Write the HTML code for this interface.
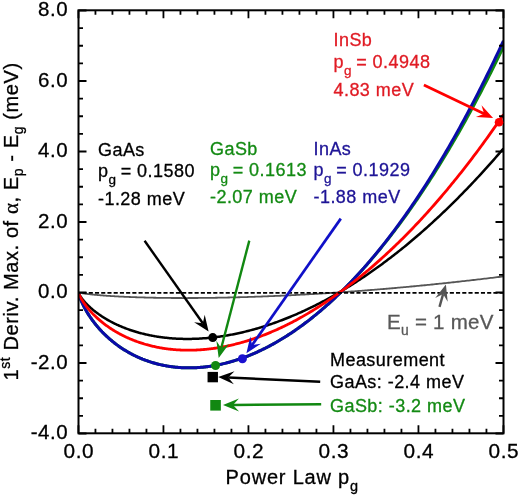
<!DOCTYPE html>
<html><head><meta charset="utf-8"><title>Power law plot</title>
<style>
html,body{margin:0;padding:0;background:#fff;}
body{width:520px;height:495px;overflow:hidden;position:relative;}
svg{position:absolute;left:0;top:0;}
text{font-family:"Liberation Sans",Arial,sans-serif;stroke:currentColor;stroke-width:0.3px;}
</style></head><body>
<svg width="520" height="495" viewBox="0 0 520 495">
<rect width="520" height="495" fill="#fff"/>
<defs><clipPath id="clip"><rect x="78.5" y="10.3" width="425" height="423"/></clipPath></defs>

<g clip-path="url(#clip)" fill="none" stroke-linejoin="round">
<polyline points="78.45,292.50 78.50,292.52 78.60,292.55 78.73,292.59 78.88,292.63 79.05,292.67 79.23,292.71 79.44,292.76 79.66,292.80 79.89,292.85 80.14,292.90 80.40,292.95 80.67,293.00 80.95,293.05 81.24,293.10 81.55,293.16 81.86,293.21 82.19,293.26 82.52,293.31 82.87,293.37 83.22,293.42 83.58,293.47 83.95,293.53 84.33,293.58 84.72,293.64 85.12,293.69 85.52,293.74 85.93,293.80 86.35,293.85 86.78,293.91 87.21,293.96 87.65,294.01 88.10,294.07 88.56,294.12 89.02,294.18 89.49,294.23 89.97,294.28 90.45,294.34 90.94,294.39 91.44,294.44 91.94,294.50 92.45,294.55 92.96,294.60 93.49,294.65 94.01,294.70 94.55,294.76 95.09,294.81 95.63,294.86 96.18,294.91 96.74,294.96 97.30,295.01 97.87,295.06 98.45,295.11 99.03,295.16 99.61,295.21 100.20,295.26 100.80,295.31 101.40,295.36 102.00,295.40 102.62,295.45 103.23,295.50 103.86,295.55 104.48,295.59 105.11,295.64 105.75,295.69 106.39,295.73 107.04,295.78 107.69,295.82 108.35,295.87 109.01,295.91 109.68,295.96 110.35,296.00 111.03,296.04 111.71,296.09 112.40,296.13 113.09,296.17 113.78,296.21 114.48,296.25 115.18,296.29 115.89,296.33 116.61,296.37 117.32,296.41 118.05,296.45 118.77,296.49 119.50,296.53 120.24,296.57 120.98,296.61 121.72,296.64 122.47,296.68 123.22,296.72 123.98,296.75 124.74,296.79 125.51,296.82 126.27,296.86 127.05,296.89 127.83,296.92 128.61,296.96 129.39,296.99 130.18,297.02 130.98,297.05 131.77,297.09 132.58,297.12 133.38,297.15 134.19,297.18 135.01,297.21 135.82,297.24 136.65,297.26 137.47,297.29 138.30,297.32 139.13,297.35 139.97,297.37 140.81,297.40 141.66,297.42 142.50,297.45 143.36,297.47 144.21,297.50 145.07,297.52 145.94,297.54 146.80,297.57 147.67,297.59 148.55,297.61 149.43,297.63 150.31,297.65 151.19,297.67 152.08,297.69 152.97,297.71 153.87,297.73 154.77,297.75 155.67,297.76 156.58,297.78 157.49,297.80 158.40,297.81 159.32,297.83 160.24,297.84 161.17,297.86 162.09,297.87 163.02,297.88 163.96,297.90 164.90,297.91 165.84,297.92 166.78,297.93 167.73,297.94 168.68,297.95 169.64,297.96 170.60,297.97 171.56,297.98 172.52,297.98 173.49,297.99 174.46,298.00 175.44,298.00 176.41,298.01 177.40,298.01 178.38,298.02 179.37,298.02 180.36,298.02 181.35,298.02 182.35,298.03 183.35,298.03 184.35,298.03 185.36,298.03 186.37,298.03 187.39,298.03 188.40,298.02 189.42,298.02 190.44,298.02 191.47,298.02 192.50,298.01 193.53,298.01 194.57,298.00 195.60,298.00 196.65,297.99 197.69,297.98 198.74,297.97 199.79,297.96 200.84,297.96 201.90,297.95 202.96,297.94 204.02,297.92 205.09,297.91 206.16,297.90 207.23,297.89 208.30,297.87 209.38,297.86 210.46,297.85 211.54,297.83 212.63,297.81 213.72,297.80 214.81,297.78 215.91,297.76 217.01,297.74 218.11,297.72 219.21,297.70 220.32,297.68 221.43,297.66 222.54,297.64 223.65,297.62 224.77,297.60 225.89,297.57 227.02,297.55 228.15,297.52 229.28,297.50 230.41,297.47 231.54,297.44 232.68,297.41 233.82,297.39 234.97,297.36 236.11,297.33 237.26,297.30 238.41,297.27 239.57,297.23 240.73,297.20 241.89,297.17 243.05,297.13 244.22,297.10 245.39,297.06 246.56,297.03 247.73,296.99 248.91,296.95 250.09,296.91 251.27,296.88 252.46,296.84 253.64,296.80 254.83,296.75 256.03,296.71 257.22,296.67 258.42,296.63 259.62,296.58 260.83,296.54 262.03,296.49 263.24,296.45 264.45,296.40 265.67,296.35 266.88,296.31 268.10,296.26 269.33,296.21 270.55,296.16 271.78,296.11 273.01,296.05 274.24,296.00 275.48,295.95 276.72,295.89 277.96,295.84 279.20,295.78 280.44,295.73 281.69,295.67 282.94,295.61 284.20,295.55 285.45,295.49 286.71,295.43 287.97,295.37 289.23,295.31 290.50,295.25 291.77,295.19 293.04,295.12 294.31,295.06 295.59,294.99 296.87,294.93 298.15,294.86 299.43,294.79 300.72,294.72 302.01,294.65 303.30,294.58 304.59,294.51 305.89,294.44 307.19,294.37 308.49,294.29 309.79,294.22 311.10,294.14 312.40,294.07 313.72,293.99 315.03,293.91 316.34,293.84 317.66,293.76 318.98,293.68 320.31,293.60 321.63,293.52 322.96,293.43 324.29,293.35 325.62,293.27 326.96,293.18 328.29,293.10 329.63,293.01 330.97,292.92 332.32,292.84 333.67,292.75 335.01,292.66 336.37,292.57 337.72,292.47 339.08,292.38 340.43,292.29 341.80,292.20 343.16,292.10 344.52,292.01 345.89,291.91 347.26,291.81 348.64,291.71 350.01,291.61 351.39,291.51 352.77,291.41 354.15,291.31 355.53,291.21 356.92,291.11 358.31,291.00 359.70,290.90 361.09,290.79 362.49,290.68 363.89,290.58 365.29,290.47 366.69,290.36 368.10,290.25 369.50,290.14 370.91,290.02 372.32,289.91 373.74,289.80 375.15,289.68 376.57,289.57 377.99,289.45 379.42,289.33 380.84,289.21 382.27,289.10 383.70,288.98 385.13,288.85 386.57,288.73 388.00,288.61 389.44,288.48 390.88,288.36 392.32,288.23 393.77,288.11 395.22,287.98 396.67,287.85 398.12,287.72 399.57,287.59 401.03,287.46 402.49,287.33 403.95,287.19 405.41,287.06 406.88,286.92 408.34,286.79 409.81,286.65 411.29,286.51 412.76,286.37 414.23,286.23 415.71,286.09 417.19,285.95 418.68,285.81 420.16,285.66 421.65,285.52 423.14,285.37 424.63,285.23 426.12,285.08 427.62,284.93 429.11,284.78 430.61,284.63 432.11,284.48 433.62,284.33 435.12,284.17 436.63,284.02 438.14,283.86 439.66,283.71 441.17,283.55 442.69,283.39 444.21,283.23 445.73,283.07 447.25,282.91 448.77,282.74 450.30,282.58 451.83,282.42 453.36,282.25 454.89,282.08 456.43,281.92 457.97,281.75 459.51,281.58 461.05,281.41 462.59,281.23 464.14,281.06 465.69,280.89 467.24,280.71 468.79,280.54 470.34,280.36 471.90,280.18 473.46,280.00 475.02,279.82 476.58,279.64 478.14,279.46 479.71,279.27 481.28,279.09 482.85,278.90 484.42,278.72 486.00,278.53 487.57,278.34 489.15,278.15 490.73,277.96 492.31,277.77 493.90,277.57 495.49,277.38 497.08,277.18 498.67,276.99 500.26,276.79 501.85,276.59 503.45,276.39" stroke="#555555" stroke-width="1.8"/>
<polyline points="78.45,292.50 78.50,292.67 78.60,292.92 78.73,293.22 78.88,293.54 79.05,293.88 79.23,294.24 79.44,294.62 79.66,295.00 79.89,295.39 80.14,295.79 80.40,296.20 80.67,296.62 80.95,297.04 81.24,297.46 81.55,297.89 81.86,298.32 82.19,298.75 82.52,299.19 82.87,299.63 83.22,300.07 83.58,300.51 83.95,300.96 84.33,301.40 84.72,301.85 85.12,302.29 85.52,302.74 85.93,303.18 86.35,303.63 86.78,304.08 87.21,304.52 87.65,304.97 88.10,305.41 88.56,305.85 89.02,306.30 89.49,306.74 89.97,307.18 90.45,307.62 90.94,308.06 91.44,308.49 91.94,308.93 92.45,309.36 92.96,309.80 93.49,310.23 94.01,310.66 94.55,311.08 95.09,311.51 95.63,311.93 96.18,312.36 96.74,312.77 97.30,313.19 97.87,313.61 98.45,314.02 99.03,314.43 99.61,314.84 100.20,315.25 100.80,315.65 101.40,316.05 102.00,316.45 102.62,316.85 103.23,317.24 103.86,317.63 104.48,318.02 105.11,318.41 105.75,318.79 106.39,319.17 107.04,319.55 107.69,319.92 108.35,320.29 109.01,320.66 109.68,321.03 110.35,321.39 111.03,321.75 111.71,322.11 112.40,322.46 113.09,322.81 113.78,323.16 114.48,323.51 115.18,323.85 115.89,324.19 116.61,324.52 117.32,324.85 118.05,325.18 118.77,325.51 119.50,325.83 120.24,326.15 120.98,326.46 121.72,326.77 122.47,327.08 123.22,327.39 123.98,327.69 124.74,327.99 125.51,328.28 126.27,328.57 127.05,328.86 127.83,329.14 128.61,329.42 129.39,329.70 130.18,329.97 130.98,330.24 131.77,330.51 132.58,330.77 133.38,331.03 134.19,331.28 135.01,331.53 135.82,331.78 136.65,332.02 137.47,332.26 138.30,332.49 139.13,332.73 139.97,332.95 140.81,333.18 141.66,333.40 142.50,333.61 143.36,333.82 144.21,334.03 145.07,334.23 145.94,334.43 146.80,334.63 147.67,334.82 148.55,335.01 149.43,335.19 150.31,335.37 151.19,335.54 152.08,335.72 152.97,335.88 153.87,336.04 154.77,336.20 155.67,336.36 156.58,336.51 157.49,336.65 158.40,336.79 159.32,336.93 160.24,337.06 161.17,337.19 162.09,337.31 163.02,337.43 163.96,337.55 164.90,337.66 165.84,337.76 166.78,337.86 167.73,337.96 168.68,338.05 169.64,338.14 170.60,338.22 171.56,338.30 172.52,338.38 173.49,338.45 174.46,338.51 175.44,338.57 176.41,338.63 177.40,338.68 178.38,338.72 179.37,338.77 180.36,338.80 181.35,338.83 182.35,338.86 183.35,338.88 184.35,338.90 185.36,338.91 186.37,338.92 187.39,338.93 188.40,338.92 189.42,338.92 190.44,338.90 191.47,338.89 192.50,338.87 193.53,338.84 194.57,338.81 195.60,338.77 196.65,338.73 197.69,338.68 198.74,338.63 199.79,338.58 200.84,338.51 201.90,338.45 202.96,338.37 204.02,338.30 205.09,338.21 206.16,338.13 207.23,338.03 208.30,337.93 209.38,337.83 210.46,337.72 211.54,337.61 212.63,337.49 213.72,337.36 214.81,337.23 215.91,337.10 217.01,336.96 218.11,336.81 219.21,336.66 220.32,336.50 221.43,336.34 222.54,336.17 223.65,336.00 224.77,335.82 225.89,335.63 227.02,335.44 228.15,335.24 229.28,335.04 230.41,334.83 231.54,334.62 232.68,334.40 233.82,334.18 234.97,333.95 236.11,333.71 237.26,333.47 238.41,333.22 239.57,332.96 240.73,332.71 241.89,332.44 243.05,332.17 244.22,331.89 245.39,331.61 246.56,331.32 247.73,331.02 248.91,330.72 250.09,330.41 251.27,330.10 252.46,329.78 253.64,329.46 254.83,329.12 256.03,328.79 257.22,328.44 258.42,328.09 259.62,327.73 260.83,327.37 262.03,327.00 263.24,326.63 264.45,326.25 265.67,325.86 266.88,325.46 268.10,325.06 269.33,324.66 270.55,324.24 271.78,323.82 273.01,323.40 274.24,322.96 275.48,322.52 276.72,322.08 277.96,321.62 279.20,321.16 280.44,320.70 281.69,320.23 282.94,319.75 284.20,319.26 285.45,318.77 286.71,318.27 287.97,317.76 289.23,317.25 290.50,316.73 291.77,316.20 293.04,315.67 294.31,315.13 295.59,314.58 296.87,314.03 298.15,313.47 299.43,312.90 300.72,312.32 302.01,311.74 303.30,311.15 304.59,310.55 305.89,309.95 307.19,309.34 308.49,308.72 309.79,308.10 311.10,307.46 312.40,306.82 313.72,306.18 315.03,305.52 316.34,304.86 317.66,304.19 318.98,303.52 320.31,302.83 321.63,302.14 322.96,301.44 324.29,300.74 325.62,300.02 326.96,299.30 328.29,298.57 329.63,297.83 330.97,297.09 332.32,296.34 333.67,295.58 335.01,294.81 336.37,294.04 337.72,293.25 339.08,292.46 340.43,291.66 341.80,290.86 343.16,290.04 344.52,289.22 345.89,288.39 347.26,287.55 348.64,286.70 350.01,285.85 351.39,284.99 352.77,284.12 354.15,283.24 355.53,282.35 356.92,281.45 358.31,280.55 359.70,279.64 361.09,278.72 362.49,277.79 363.89,276.85 365.29,275.91 366.69,274.95 368.10,273.99 369.50,273.02 370.91,272.04 372.32,271.06 373.74,270.06 375.15,269.05 376.57,268.04 377.99,267.02 379.42,265.99 380.84,264.95 382.27,263.90 383.70,262.84 385.13,261.78 386.57,260.70 388.00,259.62 389.44,258.53 390.88,257.42 392.32,256.31 393.77,255.19 395.22,254.06 396.67,252.93 398.12,251.78 399.57,250.62 401.03,249.46 402.49,248.28 403.95,247.10 405.41,245.91 406.88,244.70 408.34,243.49 409.81,242.27 411.29,241.04 412.76,239.80 414.23,238.55 415.71,237.29 417.19,236.02 418.68,234.74 420.16,233.46 421.65,232.16 423.14,230.85 424.63,229.53 426.12,228.21 427.62,226.87 429.11,225.52 430.61,224.17 432.11,222.80 433.62,221.42 435.12,220.04 436.63,218.64 438.14,217.23 439.66,215.82 441.17,214.39 442.69,212.95 444.21,211.50 445.73,210.05 447.25,208.58 448.77,207.10 450.30,205.61 451.83,204.11 453.36,202.60 454.89,201.08 456.43,199.55 457.97,198.01 459.51,196.46 461.05,194.90 462.59,193.33 464.14,191.74 465.69,190.15 467.24,188.54 468.79,186.93 470.34,185.30 471.90,183.66 473.46,182.01 475.02,180.35 476.58,178.68 478.14,177.00 479.71,175.31 481.28,173.60 482.85,171.89 484.42,170.16 486.00,168.43 487.57,166.68 489.15,164.92 490.73,163.14 492.31,161.36 493.90,159.57 495.49,157.76 497.08,155.94 498.67,154.11 500.26,152.27 501.85,150.42 503.45,148.55" stroke="#000000" stroke-width="2.5"/>
<polyline points="78.45,292.50 78.50,292.79 78.60,293.22 78.73,293.72 78.88,294.26 79.05,294.84 79.23,295.45 79.44,296.07 79.66,296.72 79.89,297.37 80.14,298.04 80.40,298.73 80.67,299.42 80.95,300.11 81.24,300.82 81.55,301.53 81.86,302.24 82.19,302.96 82.52,303.68 82.87,304.41 83.22,305.13 83.58,305.86 83.95,306.59 84.33,307.32 84.72,308.05 85.12,308.78 85.52,309.51 85.93,310.24 86.35,310.97 86.78,311.70 87.21,312.43 87.65,313.16 88.10,313.88 88.56,314.60 89.02,315.32 89.49,316.04 89.97,316.76 90.45,317.47 90.94,318.18 91.44,318.89 91.94,319.60 92.45,320.30 92.96,321.00 93.49,321.70 94.01,322.39 94.55,323.08 95.09,323.77 95.63,324.45 96.18,325.13 96.74,325.81 97.30,326.48 97.87,327.15 98.45,327.81 99.03,328.48 99.61,329.13 100.20,329.78 100.80,330.43 101.40,331.08 102.00,331.72 102.62,332.35 103.23,332.98 103.86,333.61 104.48,334.23 105.11,334.85 105.75,335.46 106.39,336.07 107.04,336.67 107.69,337.27 108.35,337.87 109.01,338.46 109.68,339.04 110.35,339.62 111.03,340.19 111.71,340.76 112.40,341.33 113.09,341.89 113.78,342.44 114.48,342.99 115.18,343.53 115.89,344.07 116.61,344.61 117.32,345.13 118.05,345.66 118.77,346.18 119.50,346.69 120.24,347.19 120.98,347.70 121.72,348.19 122.47,348.68 123.22,349.17 123.98,349.65 124.74,350.12 125.51,350.59 126.27,351.05 127.05,351.51 127.83,351.96 128.61,352.41 129.39,352.85 130.18,353.28 130.98,353.71 131.77,354.13 132.58,354.55 133.38,354.96 134.19,355.37 135.01,355.76 135.82,356.16 136.65,356.54 137.47,356.93 138.30,357.30 139.13,357.67 139.97,358.03 140.81,358.39 141.66,358.74 142.50,359.09 143.36,359.42 144.21,359.76 145.07,360.08 145.94,360.40 146.80,360.71 147.67,361.02 148.55,361.32 149.43,361.62 150.31,361.90 151.19,362.19 152.08,362.46 152.97,362.73 153.87,362.99 154.77,363.25 155.67,363.50 156.58,363.74 157.49,363.97 158.40,364.20 159.32,364.42 160.24,364.64 161.17,364.85 162.09,365.05 163.02,365.25 163.96,365.44 164.90,365.62 165.84,365.79 166.78,365.96 167.73,366.12 168.68,366.27 169.64,366.42 170.60,366.56 171.56,366.69 172.52,366.82 173.49,366.94 174.46,367.05 175.44,367.16 176.41,367.25 177.40,367.34 178.38,367.43 179.37,367.50 180.36,367.57 181.35,367.63 182.35,367.68 183.35,367.73 184.35,367.77 185.36,367.80 186.37,367.82 187.39,367.84 188.40,367.85 189.42,367.85 190.44,367.84 191.47,367.83 192.50,367.81 193.53,367.78 194.57,367.74 195.60,367.69 196.65,367.64 197.69,367.58 198.74,367.51 199.79,367.43 200.84,367.35 201.90,367.25 202.96,367.15 204.02,367.04 205.09,366.92 206.16,366.80 207.23,366.66 208.30,366.52 209.38,366.37 210.46,366.21 211.54,366.05 212.63,365.87 213.72,365.69 214.81,365.49 215.91,365.29 217.01,365.08 218.11,364.86 219.21,364.64 220.32,364.40 221.43,364.16 222.54,363.90 223.65,363.64 224.77,363.37 225.89,363.09 227.02,362.80 228.15,362.51 229.28,362.20 230.41,361.88 231.54,361.56 232.68,361.22 233.82,360.88 234.97,360.53 236.11,360.17 237.26,359.80 238.41,359.42 239.57,359.03 240.73,358.63 241.89,358.22 243.05,357.80 244.22,357.37 245.39,356.93 246.56,356.49 247.73,356.03 248.91,355.56 250.09,355.09 251.27,354.60 252.46,354.10 253.64,353.59 254.83,353.08 256.03,352.55 257.22,352.01 258.42,351.47 259.62,350.91 260.83,350.34 262.03,349.76 263.24,349.17 264.45,348.58 265.67,347.97 266.88,347.35 268.10,346.72 269.33,346.07 270.55,345.42 271.78,344.76 273.01,344.08 274.24,343.40 275.48,342.70 276.72,342.00 277.96,341.28 279.20,340.55 280.44,339.81 281.69,339.06 282.94,338.30 284.20,337.52 285.45,336.74 286.71,335.94 287.97,335.13 289.23,334.31 290.50,333.48 291.77,332.64 293.04,331.78 294.31,330.91 295.59,330.03 296.87,329.14 298.15,328.24 299.43,327.33 300.72,326.40 302.01,325.46 303.30,324.51 304.59,323.54 305.89,322.57 307.19,321.58 308.49,320.58 309.79,319.56 311.10,318.54 312.40,317.50 313.72,316.44 315.03,315.38 316.34,314.30 317.66,313.21 318.98,312.11 320.31,310.99 321.63,309.86 322.96,308.71 324.29,307.56 325.62,306.39 326.96,305.20 328.29,304.01 329.63,302.79 330.97,301.57 332.32,300.33 333.67,299.08 335.01,297.81 336.37,296.53 337.72,295.24 339.08,293.94 340.43,292.62 341.80,291.28 343.16,289.94 344.52,288.58 345.89,287.20 347.26,285.82 348.64,284.41 350.01,283.00 351.39,281.57 352.77,280.13 354.15,278.67 355.53,277.20 356.92,275.71 358.31,274.21 359.70,272.70 361.09,271.17 362.49,269.62 363.89,268.06 365.29,266.49 366.69,264.90 368.10,263.30 369.50,261.68 370.91,260.05 372.32,258.40 373.74,256.73 375.15,255.05 376.57,253.36 377.99,251.65 379.42,249.92 380.84,248.18 382.27,246.42 383.70,244.65 385.13,242.86 386.57,241.06 388.00,239.24 389.44,237.40 390.88,235.55 392.32,233.68 393.77,231.79 395.22,229.89 396.67,227.97 398.12,226.03 399.57,224.08 401.03,222.11 402.49,220.13 403.95,218.12 405.41,216.10 406.88,214.07 408.34,212.01 409.81,209.94 411.29,207.85 412.76,205.74 414.23,203.62 415.71,201.47 417.19,199.31 418.68,197.13 420.16,194.94 421.65,192.72 423.14,190.49 424.63,188.24 426.12,185.97 427.62,183.68 429.11,181.38 430.61,179.05 432.11,176.71 433.62,174.34 435.12,171.96 436.63,169.56 438.14,167.14 439.66,164.70 441.17,162.24 442.69,159.76 444.21,157.27 445.73,154.75 447.25,152.21 448.77,149.65 450.30,147.08 451.83,144.48 453.36,141.86 454.89,139.22 456.43,136.57 457.97,133.89 459.51,131.19 461.05,128.47 462.59,125.73 464.14,122.97 465.69,120.18 467.24,117.38 468.79,114.56 470.34,111.71 471.90,108.84 473.46,105.95 475.02,103.04 476.58,100.11 478.14,97.15 479.71,94.18 481.28,91.18 482.85,88.16 484.42,85.11 486.00,82.05 487.57,78.96 489.15,75.85 490.73,72.71 492.31,69.56 493.90,66.38 495.49,63.17 497.08,59.95 498.67,56.70 500.26,53.42 501.85,50.13 503.45,46.81" stroke="#118811" stroke-width="3"/>
<polyline points="78.45,292.50 78.50,292.79 78.60,293.22 78.73,293.72 78.88,294.26 79.05,294.84 79.23,295.45 79.44,296.07 79.66,296.72 79.89,297.37 80.14,298.04 80.40,298.73 80.67,299.42 80.95,300.11 81.24,300.82 81.55,301.53 81.86,302.24 82.19,302.96 82.52,303.68 82.87,304.41 83.22,305.13 83.58,305.86 83.95,306.59 84.33,307.32 84.72,308.05 85.12,308.78 85.52,309.51 85.93,310.24 86.35,310.97 86.78,311.70 87.21,312.43 87.65,313.16 88.10,313.88 88.56,314.60 89.02,315.32 89.49,316.04 89.97,316.76 90.45,317.47 90.94,318.18 91.44,318.89 91.94,319.60 92.45,320.30 92.96,321.00 93.49,321.70 94.01,322.39 94.55,323.08 95.09,323.77 95.63,324.45 96.18,325.13 96.74,325.81 97.30,326.48 97.87,327.15 98.45,327.81 99.03,328.48 99.61,329.13 100.20,329.78 100.80,330.43 101.40,331.08 102.00,331.72 102.62,332.35 103.23,332.98 103.86,333.61 104.48,334.23 105.11,334.85 105.75,335.46 106.39,336.07 107.04,336.67 107.69,337.27 108.35,337.87 109.01,338.46 109.68,339.04 110.35,339.62 111.03,340.19 111.71,340.76 112.40,341.33 113.09,341.89 113.78,342.44 114.48,342.99 115.18,343.53 115.89,344.07 116.61,344.61 117.32,345.13 118.05,345.66 118.77,346.18 119.50,346.69 120.24,347.19 120.98,347.70 121.72,348.19 122.47,348.68 123.22,349.17 123.98,349.65 124.74,350.12 125.51,350.59 126.27,351.05 127.05,351.51 127.83,351.96 128.61,352.41 129.39,352.85 130.18,353.28 130.98,353.71 131.77,354.13 132.58,354.55 133.38,354.96 134.19,355.37 135.01,355.76 135.82,356.16 136.65,356.54 137.47,356.93 138.30,357.30 139.13,357.67 139.97,358.03 140.81,358.39 141.66,358.74 142.50,359.09 143.36,359.42 144.21,359.76 145.07,360.08 145.94,360.40 146.80,360.71 147.67,361.02 148.55,361.32 149.43,361.62 150.31,361.90 151.19,362.19 152.08,362.46 152.97,362.73 153.87,362.99 154.77,363.25 155.67,363.50 156.58,363.74 157.49,363.97 158.40,364.20 159.32,364.42 160.24,364.64 161.17,364.85 162.09,365.05 163.02,365.25 163.96,365.44 164.90,365.62 165.84,365.79 166.78,365.96 167.73,366.12 168.68,366.27 169.64,366.42 170.60,366.56 171.56,366.69 172.52,366.82 173.49,366.94 174.46,367.05 175.44,367.16 176.41,367.25 177.40,367.34 178.38,367.43 179.37,367.50 180.36,367.57 181.35,367.63 182.35,367.68 183.35,367.73 184.35,367.77 185.36,367.80 186.37,367.82 187.39,367.84 188.40,367.85 189.42,367.85 190.44,367.84 191.47,367.83 192.50,367.81 193.53,367.78 194.57,367.74 195.60,367.69 196.65,367.64 197.69,367.58 198.74,367.51 199.79,367.43 200.84,367.35 201.90,367.25 202.96,367.15 204.02,367.04 205.09,366.92 206.16,366.80 207.23,366.66 208.30,366.52 209.38,366.37 210.46,366.21 211.54,366.05 212.63,365.87 213.72,365.69 214.81,365.49 215.91,365.29 217.01,365.08 218.11,364.86 219.21,364.64 220.32,364.40 221.43,364.16 222.54,363.90 223.65,363.64 224.77,363.37 225.89,363.09 227.02,362.80 228.15,362.51 229.28,362.20 230.41,361.88 231.54,361.56 232.68,361.22 233.82,360.88 234.97,360.53 236.11,360.17 237.26,359.80 238.41,359.42 239.57,359.03 240.73,358.63 241.89,358.22 243.05,357.80 244.22,357.37 245.39,356.93 246.56,356.49 247.73,356.03 248.91,355.56 250.09,355.09 251.27,354.60 252.46,354.10 253.64,353.59 254.83,353.08 256.03,352.55 257.22,352.01 258.42,351.47 259.62,350.91 260.83,350.34 262.03,349.76 263.24,349.17 264.45,348.58 265.67,347.97 266.88,347.35 268.10,346.72 269.33,346.07 270.55,345.42 271.78,344.76 273.01,344.08 274.24,343.40 275.48,342.70 276.72,342.00 277.96,341.28 279.20,340.55 280.44,339.81 281.69,339.06 282.94,338.30 284.20,337.52 285.45,336.74 286.71,335.94 287.97,335.13 289.23,334.31 290.50,333.48 291.77,332.64 293.04,331.78 294.31,330.91 295.59,330.03 296.87,329.14 298.15,328.24 299.43,327.33 300.72,326.40 302.01,325.46 303.30,324.51 304.59,323.54 305.89,322.57 307.19,321.58 308.49,320.58 309.79,319.56 311.10,318.54 312.40,317.50 313.72,316.44 315.03,315.38 316.34,314.30 317.66,313.21 318.98,312.11 320.31,310.99 321.63,309.86 322.96,308.71 324.29,307.56 325.62,306.39 326.96,305.20 328.29,304.01 329.63,302.79 330.97,301.57 332.32,300.33 333.67,299.08 335.01,297.81 336.37,296.53 337.72,295.24 339.08,293.93 340.43,292.61 341.80,291.27 343.16,289.92 344.52,288.55 345.89,287.17 347.26,285.78 348.64,284.37 350.01,282.94 351.39,281.50 352.77,280.05 354.15,278.58 355.53,277.10 356.92,275.60 358.31,274.08 359.70,272.55 361.09,271.01 362.49,269.45 363.89,267.87 365.29,266.28 366.69,264.67 368.10,263.05 369.50,261.41 370.91,259.75 372.32,258.08 373.74,256.40 375.15,254.69 376.57,252.97 377.99,251.24 379.42,249.48 380.84,247.72 382.27,245.93 383.70,244.13 385.13,242.31 386.57,240.47 388.00,238.62 389.44,236.75 390.88,234.86 392.32,232.96 393.77,231.04 395.22,229.10 396.67,227.14 398.12,225.17 399.57,223.18 401.03,221.17 402.49,219.14 403.95,217.09 405.41,215.03 406.88,212.95 408.34,210.85 409.81,208.73 411.29,206.59 412.76,204.44 414.23,202.26 415.71,200.07 417.19,197.86 418.68,195.63 420.16,193.38 421.65,191.11 423.14,188.82 424.63,186.52 426.12,184.19 427.62,181.84 429.11,179.48 430.61,177.09 432.11,174.69 433.62,172.26 435.12,169.82 436.63,167.35 438.14,164.87 439.66,162.36 441.17,159.84 442.69,157.29 444.21,154.72 445.73,152.13 447.25,149.53 448.77,146.90 450.30,144.25 451.83,141.57 453.36,138.88 454.89,136.17 456.43,133.43 457.97,130.67 459.51,127.89 461.05,125.09 462.59,122.27 464.14,119.43 465.69,116.56 467.24,113.67 468.79,110.76 470.34,107.82 471.90,104.87 473.46,101.89 475.02,98.88 476.58,95.86 478.14,92.81 479.71,89.74 481.28,86.65 482.85,83.53 484.42,80.39 486.00,77.22 487.57,74.03 489.15,70.82 490.73,67.58 492.31,64.32 493.90,61.04 495.49,57.73 497.08,54.40 498.67,51.04 500.26,47.65 501.85,44.25 503.45,40.81" stroke="#0a0aaa" stroke-width="3"/>
<polyline points="78.45,292.50 78.50,292.71 78.60,293.03 78.73,293.39 78.88,293.79 79.05,294.22 79.23,294.66 79.44,295.13 79.66,295.60 79.89,296.09 80.14,296.59 80.40,297.10 80.67,297.61 80.95,298.13 81.24,298.66 81.55,299.19 81.86,299.72 82.19,300.26 82.52,300.80 82.87,301.34 83.22,301.89 83.58,302.44 83.95,302.99 84.33,303.54 84.72,304.09 85.12,304.64 85.52,305.19 85.93,305.74 86.35,306.30 86.78,306.85 87.21,307.40 87.65,307.95 88.10,308.50 88.56,309.05 89.02,309.60 89.49,310.14 89.97,310.69 90.45,311.23 90.94,311.78 91.44,312.32 91.94,312.86 92.45,313.39 92.96,313.93 93.49,314.46 94.01,314.99 94.55,315.52 95.09,316.05 95.63,316.57 96.18,317.09 96.74,317.61 97.30,318.13 97.87,318.64 98.45,319.15 99.03,319.66 99.61,320.17 100.20,320.67 100.80,321.17 101.40,321.67 102.00,322.16 102.62,322.65 103.23,323.14 103.86,323.62 104.48,324.10 105.11,324.58 105.75,325.05 106.39,325.52 107.04,325.99 107.69,326.46 108.35,326.92 109.01,327.37 109.68,327.83 110.35,328.27 111.03,328.72 111.71,329.16 112.40,329.60 113.09,330.04 113.78,330.47 114.48,330.89 115.18,331.32 115.89,331.74 116.61,332.15 117.32,332.56 118.05,332.97 118.77,333.37 119.50,333.77 120.24,334.17 120.98,334.56 121.72,334.94 122.47,335.33 123.22,335.71 123.98,336.08 124.74,336.45 125.51,336.81 126.27,337.18 127.05,337.53 127.83,337.88 128.61,338.23 129.39,338.58 130.18,338.92 130.98,339.25 131.77,339.58 132.58,339.91 133.38,340.23 134.19,340.54 135.01,340.85 135.82,341.16 136.65,341.46 137.47,341.76 138.30,342.05 139.13,342.34 139.97,342.63 140.81,342.91 141.66,343.18 142.50,343.45 143.36,343.71 144.21,343.97 145.07,344.23 145.94,344.48 146.80,344.72 147.67,344.96 148.55,345.19 149.43,345.42 150.31,345.65 151.19,345.87 152.08,346.08 152.97,346.29 153.87,346.49 154.77,346.69 155.67,346.89 156.58,347.08 157.49,347.26 158.40,347.44 159.32,347.61 160.24,347.78 161.17,347.94 162.09,348.09 163.02,348.25 163.96,348.39 164.90,348.53 165.84,348.67 166.78,348.80 167.73,348.92 168.68,349.04 169.64,349.15 170.60,349.26 171.56,349.36 172.52,349.45 173.49,349.55 174.46,349.63 175.44,349.71 176.41,349.78 177.40,349.85 178.38,349.91 179.37,349.97 180.36,350.02 181.35,350.06 182.35,350.10 183.35,350.13 184.35,350.16 185.36,350.18 186.37,350.19 187.39,350.20 188.40,350.20 189.42,350.20 190.44,350.19 191.47,350.18 192.50,350.15 193.53,350.13 194.57,350.09 195.60,350.05 196.65,350.01 197.69,349.95 198.74,349.89 199.79,349.83 200.84,349.76 201.90,349.68 202.96,349.60 204.02,349.51 205.09,349.41 206.16,349.30 207.23,349.19 208.30,349.08 209.38,348.96 210.46,348.83 211.54,348.69 212.63,348.55 213.72,348.40 214.81,348.24 215.91,348.08 217.01,347.91 218.11,347.73 219.21,347.55 220.32,347.36 221.43,347.16 222.54,346.96 223.65,346.75 224.77,346.53 225.89,346.31 227.02,346.08 228.15,345.84 229.28,345.59 230.41,345.34 231.54,345.08 232.68,344.81 233.82,344.54 234.97,344.26 236.11,343.97 237.26,343.68 238.41,343.37 239.57,343.06 240.73,342.75 241.89,342.42 243.05,342.09 244.22,341.75 245.39,341.40 246.56,341.05 247.73,340.69 248.91,340.32 250.09,339.94 251.27,339.56 252.46,339.17 253.64,338.77 254.83,338.36 256.03,337.94 257.22,337.52 258.42,337.09 259.62,336.65 260.83,336.21 262.03,335.75 263.24,335.29 264.45,334.82 265.67,334.34 266.88,333.85 268.10,333.36 269.33,332.86 270.55,332.35 271.78,331.83 273.01,331.30 274.24,330.77 275.48,330.23 276.72,329.67 277.96,329.11 279.20,328.55 280.44,327.97 281.69,327.38 282.94,326.79 284.20,326.19 285.45,325.58 286.71,324.96 287.97,324.33 289.23,323.70 290.50,323.05 291.77,322.40 293.04,321.74 294.31,321.07 295.59,320.39 296.87,319.70 298.15,319.00 299.43,318.29 300.72,317.58 302.01,316.85 303.30,316.12 304.59,315.38 305.89,314.63 307.19,313.87 308.49,313.10 309.79,312.32 311.10,311.53 312.40,310.73 313.72,309.92 315.03,309.11 316.34,308.28 317.66,307.45 318.98,306.60 320.31,305.75 321.63,304.88 322.96,304.01 324.29,303.13 325.62,302.24 326.96,301.33 328.29,300.42 329.63,299.50 330.97,298.57 332.32,297.62 333.67,296.67 335.01,295.71 336.37,294.74 337.72,293.76 339.08,292.77 340.43,291.79 341.80,290.80 343.16,289.81 344.52,288.81 345.89,287.79 347.26,286.77 348.64,285.74 350.01,284.70 351.39,283.64 352.77,282.58 354.15,281.51 355.53,280.42 356.92,279.33 358.31,278.22 359.70,277.11 361.09,275.98 362.49,274.85 363.89,273.70 365.29,272.55 366.69,271.38 368.10,270.20 369.50,269.01 370.91,267.81 372.32,266.60 373.74,265.38 375.15,264.15 376.57,262.91 377.99,261.65 379.42,260.39 380.84,259.11 382.27,257.83 383.70,256.53 385.13,255.22 386.57,253.90 388.00,252.57 389.44,251.23 390.88,249.87 392.32,248.51 393.77,247.13 395.22,245.74 396.67,244.34 398.12,242.93 399.57,241.51 401.03,240.07 402.49,238.63 403.95,237.17 405.41,235.70 406.88,234.22 408.34,232.72 409.81,231.22 411.29,229.70 412.76,228.17 414.23,226.63 415.71,225.07 417.19,223.50 418.68,221.93 420.16,220.33 421.65,218.73 423.14,217.11 424.63,215.49 426.12,213.84 427.62,212.19 429.11,210.52 430.61,208.85 432.11,207.15 433.62,205.45 435.12,203.73 436.63,202.00 438.14,200.26 439.66,198.50 441.17,196.73 442.69,194.95 444.21,193.16 445.73,191.35 447.25,189.53 448.77,187.69 450.30,185.84 451.83,183.98 453.36,182.10 454.89,180.21 456.43,178.31 457.97,176.40 459.51,174.47 461.05,172.52 462.59,170.56 464.14,168.59 465.69,166.61 467.24,164.61 468.79,162.59 470.34,160.57 471.90,158.53 473.46,156.47 475.02,154.40 476.58,152.32 478.14,150.22 479.71,148.10 481.28,145.98 482.85,143.83 484.42,141.68 486.00,139.50 487.57,137.32 489.15,135.12 490.73,132.90 492.31,130.67 493.90,128.42 495.49,126.16 497.08,123.89 498.67,121.60 500.26,119.29 501.85,116.97 503.45,114.63" stroke="#ff0000" stroke-width="2.8"/>
</g>
<line x1="78.45" y1="292.9" x2="503.5" y2="292.9" stroke="#000" stroke-width="1.6" stroke-dasharray="4.1 2.125" stroke-dashoffset="2.15"/>
<rect x="78.5" y="10.3" width="425" height="423" fill="none" stroke="#000" stroke-width="2"/>
<path d="M78.45,433.3v-8M78.45,10.3v8M95.45,433.3v-4.5M95.45,10.3v4.5M112.45,433.3v-4.5M112.45,10.3v4.5M129.45,433.3v-4.5M129.45,10.3v4.5M146.45,433.3v-4.5M146.45,10.3v4.5M163.45,433.3v-8M163.45,10.3v8M180.45,433.3v-4.5M180.45,10.3v4.5M197.45,433.3v-4.5M197.45,10.3v4.5M214.45,433.3v-4.5M214.45,10.3v4.5M231.45,433.3v-4.5M231.45,10.3v4.5M248.45,433.3v-8M248.45,10.3v8M265.45,433.3v-4.5M265.45,10.3v4.5M282.45,433.3v-4.5M282.45,10.3v4.5M299.45,433.3v-4.5M299.45,10.3v4.5M316.45,433.3v-4.5M316.45,10.3v4.5M333.45,433.3v-8M333.45,10.3v8M350.45,433.3v-4.5M350.45,10.3v4.5M367.45,433.3v-4.5M367.45,10.3v4.5M384.45,433.3v-4.5M384.45,10.3v4.5M401.45,433.3v-4.5M401.45,10.3v4.5M418.45,433.3v-8M418.45,10.3v8M435.45,433.3v-4.5M435.45,10.3v4.5M452.45,433.3v-4.5M452.45,10.3v4.5M469.45,433.3v-4.5M469.45,10.3v4.5M486.45,433.3v-4.5M486.45,10.3v4.5M503.45,433.3v-8M503.45,10.3v8M78.5,433.50h8M503.5,433.50h-8M78.5,415.88h4.5M503.5,415.88h-4.5M78.5,398.25h4.5M503.5,398.25h-4.5M78.5,380.62h4.5M503.5,380.62h-4.5M78.5,363.00h8M503.5,363.00h-8M78.5,345.38h4.5M503.5,345.38h-4.5M78.5,327.75h4.5M503.5,327.75h-4.5M78.5,310.12h4.5M503.5,310.12h-4.5M78.5,292.50h8M503.5,292.50h-8M78.5,274.88h4.5M503.5,274.88h-4.5M78.5,257.25h4.5M503.5,257.25h-4.5M78.5,239.62h4.5M503.5,239.62h-4.5M78.5,222.00h8M503.5,222.00h-8M78.5,204.38h4.5M503.5,204.38h-4.5M78.5,186.75h4.5M503.5,186.75h-4.5M78.5,169.12h4.5M503.5,169.12h-4.5M78.5,151.50h8M503.5,151.50h-8M78.5,133.88h4.5M503.5,133.88h-4.5M78.5,116.25h4.5M503.5,116.25h-4.5M78.5,98.62h4.5M503.5,98.62h-4.5M78.5,81.00h8M503.5,81.00h-8M78.5,63.38h4.5M503.5,63.38h-4.5M78.5,45.75h4.5M503.5,45.75h-4.5M78.5,28.12h4.5M503.5,28.12h-4.5M78.5,10.50h8M503.5,10.50h-8" stroke="#000" stroke-width="1.8" fill="none"/>
<text x="68.1" y="16.0" text-anchor="end" font-size="20.5" letter-spacing="0.5">8.0</text>
<text x="68.1" y="86.5" text-anchor="end" font-size="20.5" letter-spacing="0.5">6.0</text>
<text x="68.1" y="157.0" text-anchor="end" font-size="20.5" letter-spacing="0.5">4.0</text>
<text x="68.1" y="227.5" text-anchor="end" font-size="20.5" letter-spacing="0.5">2.0</text>
<text x="68.1" y="298.0" text-anchor="end" font-size="20.5" letter-spacing="0.5">0.0</text>
<text x="68.1" y="368.5" text-anchor="end" font-size="20.5" letter-spacing="0.5">-2.0</text>
<text x="68.1" y="439.0" text-anchor="end" font-size="20.5" letter-spacing="0.5">-4.0</text>
<text x="78.8" y="457.8" text-anchor="middle" font-size="20.8" letter-spacing="0.5">0.0</text>
<text x="163.8" y="457.8" text-anchor="middle" font-size="20.8" letter-spacing="0.5">0.1</text>
<text x="248.8" y="457.8" text-anchor="middle" font-size="20.8" letter-spacing="0.5">0.2</text>
<text x="333.8" y="457.8" text-anchor="middle" font-size="20.8" letter-spacing="0.5">0.3</text>
<text x="418.8" y="457.8" text-anchor="middle" font-size="20.8" letter-spacing="0.5">0.4</text>
<text x="503.8" y="457.8" text-anchor="middle" font-size="20.8" letter-spacing="0.5">0.5</text>
<text x="225.6" y="484" font-size="20" letter-spacing="0.8">Power Law p<tspan font-size="14.5" dy="7">g</tspan></text>
<text id="ylab" transform="translate(17.6,380.5) rotate(-90)" font-size="20" letter-spacing="0.6">1<tspan font-size="14" dy="-8">st</tspan><tspan dy="8"> Deriv. Max. of </tspan><tspan font-family="Liberation Serif, serif" font-size="21">α</tspan><tspan>, E</tspan><tspan font-size="14" dy="5">p</tspan><tspan dy="-5"> - E</tspan><tspan font-size="14" dy="5">g</tspan><tspan dy="-5"> (meV)</tspan></text>
<circle cx="212.75" cy="337.62" r="4.5" fill="#000"/>
<circle cx="215.56" cy="365.47" r="4.5" fill="#118811"/>
<circle cx="242.42" cy="358.77" r="4.5" fill="#1a10d0"/>
<circle cx="499.03" cy="122.24" r="4.3" fill="#ff0000"/>
<rect x="207.55" y="371.90" width="10.4" height="10.4" fill="#000"/>
<rect x="210.25" y="400.00" width="10.6" height="10.6" fill="#118811"/>
<line x1="144.6" y1="240.8" x2="202.8" y2="323.3" stroke="#000" stroke-width="2.4"/><path d="M208.6,331.5 L194.1,322.2 L202.8,323.3 L204.7,314.7 Z" fill="#000"/>
<line x1="249.3" y1="240.6" x2="221.2" y2="348.2" stroke="#118811" stroke-width="2.4"/><path d="M218.7,357.9 L216.4,340.8 L221.2,348.2 L229.0,344.1 Z" fill="#118811"/>
<line x1="340.8" y1="218.6" x2="252.1" y2="345.0" stroke="#1010c8" stroke-width="2.7"/><path d="M246.4,353.2 L250.3,336.4 L252.1,345.0 L260.9,343.8 Z" fill="#1010c8"/>
<line x1="423.9" y1="84.9" x2="484.1" y2="113.8" stroke="#ff0000" stroke-width="2.8"/><path d="M493.1,118.1 L475.9,117.0 L484.1,113.8 L481.5,105.3 Z" fill="#ff0000"/>
<line x1="439.5" y1="306.8" x2="443.1" y2="294.1" stroke="#555555" stroke-width="2.4"/><path d="M445.9,284.5 L447.7,301.7 L443.1,294.1 L435.2,298.1 Z" fill="#555555"/>
<line x1="320.2" y1="381.8" x2="228.2" y2="377.5" stroke="#000" stroke-width="2.4"/><path d="M218.2,377.0 L234.5,371.3 L228.2,377.5 L233.9,384.2 Z" fill="#000"/>
<line x1="321.2" y1="404.2" x2="233.0" y2="405.0" stroke="#118811" stroke-width="2.4"/><path d="M223.0,405.1 L238.9,398.5 L233.0,405.0 L239.1,411.5 Z" fill="#118811"/>
<g fill="#000" color="#000" font-size="18" letter-spacing="0.45"><text x="98" y="155.6">GaAs</text><text x="98" y="177.0">p<tspan font-size="13.5" dy="6.5">g</tspan><tspan dy="-6.5" dx="-1.2"> = 0.1580</tspan></text><text x="98" y="204.7">-1.28 meV</text></g>
<g fill="#138a13" color="#138a13" font-size="18" letter-spacing="0.45"><text x="210" y="155.4">GaSb</text><text x="210" y="176.0">p<tspan font-size="13.5" dy="6.5">g</tspan><tspan dy="-6.5" dx="-1.2"> = 0.1613</tspan></text><text x="210" y="203.2">-2.07 meV</text></g>
<g fill="#1e1496" color="#1e1496" font-size="18" letter-spacing="0.45"><text x="313.5" y="154.8">InAs</text><text x="313.5" y="176.0">p<tspan font-size="13.5" dy="6.5">g</tspan><tspan dy="-6.5" dx="-1.2"> = 0.1929</tspan></text><text x="313.5" y="203.2">-1.88 meV</text></g>
<g fill="#e01b24" color="#e01b24" font-size="18" letter-spacing="0.45"><text x="333.5" y="45.5">InSb</text><text x="333.5" y="68.2">p<tspan font-size="13.5" dy="6.5">g</tspan><tspan dy="-6.5" dx="-1.2"> = 0.4948</tspan></text><text x="333.5" y="95.5">4.83 meV</text></g>
<g fill="#000" color="#000" font-size="18" letter-spacing="0.45"><text x="330" y="365.8">Measurement</text><text x="330" y="387.7">GaAs: -2.4 meV</text></g>
<text x="330" y="412.4" font-size="18" letter-spacing="0.45" fill="#138a13" color="#138a13">GaSb: -3.2 meV</text>
<text x="387.0" y="329" font-size="20.5" letter-spacing="0.3" fill="#585858" color="#585858">E<tspan font-size="13.8" dy="6">u</tspan><tspan dy="-6" letter-spacing="0.25"> = 1 meV</tspan></text>
</svg></body></html>
